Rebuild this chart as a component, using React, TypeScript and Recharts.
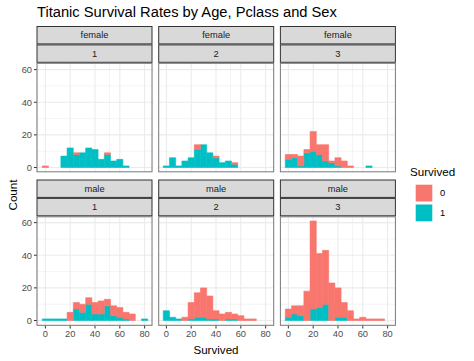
import React from 'react';
import { Bar, BarChart, CartesianGrid, XAxis, YAxis } from 'recharts';

// age bins (binwidth 5, centred on multiples of 5)
const ageBins = [0, 5, 10, 15, 20, 25, 30, 35, 40, 45, 50, 55, 60, 65, 70, 75, 80];

// counts per bin: lived = Survived 1, died = Survived 0
const female1Lived = [0, 0, 0, 7, 12, 8, 9, 12, 11, 5, 8, 4, 5, 1, 0, 0, 0];
const female1Died = [1, 0, 0, 0, 0, 1, 0, 0, 0, 0, 1, 0, 0, 0, 0, 0, 0];
const female2Lived = [1, 6, 1, 4, 6, 11, 14, 9, 6, 3, 4, 2, 0, 0, 0, 0, 0];
const female2Died = [0, 0, 0, 0, 0, 3, 0, 0, 1, 0, 0, 1, 0, 0, 0, 0, 0];
const female3Lived = [5, 6, 1, 9, 10, 8, 4, 3, 1, 0, 0, 0, 0, 1, 0, 0, 0];
const female3Died = [3, 2, 6, 2, 12, 6, 10, 1, 5, 4, 1, 0, 0, 0, 0, 0, 0];
const male1Lived = [1, 1, 1, 1, 0, 7, 5, 10, 4, 4, 9, 3, 2, 1, 0, 0, 1];
const male1Died = [0, 0, 0, 0, 5, 4, 5, 4, 7, 8, 4, 6, 6, 4, 4, 0, 0];
const male2Lived = [6, 2, 1, 0, 1, 2, 2, 1, 1, 0, 1, 1, 0, 0, 0, 0, 0];
const male2Died = [0, 0, 0, 2, 10, 15, 18, 14, 5, 4, 4, 3, 3, 1, 1, 0, 0];
const male3Lived = [2, 4, 3, 0, 7, 8, 10, 0, 2, 2, 0, 0, 0, 0, 0, 0, 0];
const male3Died = [5, 5, 6, 18, 54, 33, 33, 23, 18, 9, 6, 1, 2, 1, 1, 1, 0];

const xMajor = [0, 20, 40, 60, 80];
const xMinor = [10, 30, 50, 70];
const yMajor = [0, 20, 40, 60];
const yMinor = [10, 30, 50];

const X_DOMAIN: [number, number] = [-6.75, 86.75];
const Y_DOMAIN: [number, number] = [-3.05, 64.05];
const BIN_WIDTH = 5;

const RED = '#F8766D';
const TEAL = '#00BFC4';
const FONT = '"Liberation Sans", Arial, Helvetica, sans-serif';

const COL_LEFT = [36.5, 158.2, 279.9];
const PANEL_W = 116;
const PANEL_H = 109.5;
const STRIP_H = 18.4;
const ROW_STRIP_TOP = [26, 179.5];

type PanelProps = {
  lived: number[];
  died: number[];
  left: number;
  top: number;
  showY: boolean;
  showX: boolean;
};

function Panel({ lived, died, left, top, showY, showX }: PanelProps) {
  const yW = showY ? 22 : 0;
  const xH = showX ? 18 : 0;
  const data = ageBins.map((age, i) => ({ age, lived: lived[i], died: died[i] }));
  const pxPerYear = PANEL_W / (X_DOMAIN[1] - X_DOMAIN[0]);
  // the bins run from -2.5 to 82.5; the rest of the x range is ggplot's expansion
  const padL = (ageBins[0] - BIN_WIDTH / 2 - X_DOMAIN[0]) * pxPerYear;
  const padR = (X_DOMAIN[1] - ageBins[ageBins.length - 1] - BIN_WIDTH / 2) * pxPerYear;
  // a hair under the band so recharts doesn't fall back to 90% bars
  const barPx = BIN_WIDTH * pxPerYear * 0.998;
  const tickStyle = { fontSize: 9.3, fill: '#4D4D4D', fontFamily: FONT };
  return (
    <div style={{ position: 'absolute', left: left - yW, top }}>
      <BarChart
        width={PANEL_W + yW}
        height={PANEL_H + xH}
        data={data}
        margin={{ top: 0, right: 0, bottom: 0, left: 0 }}
        barCategoryGap="0%"
        barGap="0%"
      >
        <CartesianGrid stroke="#EBEBEB" strokeWidth={0.55} xAxisId="minor" yAxisId="minor" />
        <CartesianGrid stroke="#EBEBEB" strokeWidth={1.1} />
        <XAxis
          type="number"
          dataKey="age"
          domain={X_DOMAIN}
          ticks={xMajor}
          interval={0}
          allowDataOverflow
          hide={!showX}
          height={xH}
          axisLine={false}
          tickSize={3}
          tickMargin={2}
          tickLine={{ stroke: '#333333' }}
          tick={tickStyle}
        />
        <XAxis xAxisId="minor" type="number" domain={X_DOMAIN} ticks={xMinor} allowDataOverflow hide />
        <XAxis
          xAxisId="bins"
          type="category"
          dataKey="age"
          hide
          padding={{ left: padL, right: padR }}
        />
        <YAxis
          type="number"
          domain={Y_DOMAIN}
          ticks={yMajor}
          interval={0}
          allowDataOverflow
          hide={!showY}
          width={yW}
          axisLine={false}
          tickSize={3}
          tickMargin={2}
          tickLine={{ stroke: '#333333' }}
          tick={tickStyle}
        />
        <YAxis yAxisId="minor" type="number" domain={Y_DOMAIN} ticks={yMinor} allowDataOverflow hide />
        <Bar xAxisId="bins" dataKey="lived" stackId="s" fill={TEAL} stroke={TEAL} strokeWidth={0.6} barSize={barPx} isAnimationActive={false} />
        <Bar xAxisId="bins" dataKey="died" stackId="s" fill={RED} stroke={RED} strokeWidth={0.6} barSize={barPx} isAnimationActive={false} />
      </BarChart>
    </div>
  );
}

const panels = [
  { sex: 'female', cls: '1', lived: female1Lived, died: female1Died },
  { sex: 'female', cls: '2', lived: female2Lived, died: female2Died },
  { sex: 'female', cls: '3', lived: female3Lived, died: female3Died },
  { sex: 'male', cls: '1', lived: male1Lived, died: male1Died },
  { sex: 'male', cls: '2', lived: male2Lived, died: male2Died },
  { sex: 'male', cls: '3', lived: male3Lived, died: male3Died },
];

export default function App() {
  return (
    <div style={{ position: 'absolute', left: 0, top: 0, width: 474, height: 361, background: '#fff', fontFamily: FONT }}>
      {panels.map((p, i) => {
        const row = Math.floor(i / 3);
        const col = i % 3;
        return (
          <Panel
            key={i}
            lived={p.lived}
            died={p.died}
            left={COL_LEFT[col]}
            top={ROW_STRIP_TOP[row] + 2 * STRIP_H}
            showY={col === 0}
            showX={row === 1}
          />
        );
      })}
      <svg width={474} height={361} style={{ position: 'absolute', left: 0, top: 0, pointerEvents: 'none' }}>
        <text x={37} y={17.3} fontSize={14.7} fill="#000" fontFamily={FONT}>
          Titanic Survival Rates by Age, Pclass and Sex
        </text>
        {panels.map((p, i) => {
          const row = Math.floor(i / 3);
          const col = i % 3;
          const x = COL_LEFT[col];
          const y0 = ROW_STRIP_TOP[row];
          return (
            <g key={i}>
              <rect x={x + 0.5} y={y0 + 0.5} width={PANEL_W - 1} height={STRIP_H - 1} fill="#D9D9D9" stroke="#333333" strokeWidth={1} />
              <rect x={x + 0.5} y={y0 + STRIP_H + 0.5} width={PANEL_W - 1} height={STRIP_H - 1} fill="#D9D9D9" stroke="#333333" strokeWidth={1} />
              <text x={x + PANEL_W / 2} y={y0 + STRIP_H / 2} textAnchor="middle" dominantBaseline="central" fontSize={9.3} fill="#1A1A1A" fontFamily={FONT}>
                {p.sex}
              </text>
              <text x={x + PANEL_W / 2} y={y0 + STRIP_H * 1.5} textAnchor="middle" dominantBaseline="central" fontSize={9.3} fill="#1A1A1A" fontFamily={FONT}>
                {p.cls}
              </text>
              <rect x={x + 0.5} y={y0 + 2 * STRIP_H + 0.5} width={PANEL_W - 1} height={PANEL_H - 1} fill="none" stroke="#7A7A7A" strokeWidth={1} />
            </g>
          );
        })}
        <text x={216} y={349.5} textAnchor="middle" dominantBaseline="central" fontSize={11.6} fill="#000" fontFamily={FONT}>
          Survived
        </text>
        <text x={12} y={195} textAnchor="middle" dominantBaseline="central" fontSize={11.6} fill="#000" fontFamily={FONT} transform="rotate(-90 12 195)">
          Count
        </text>
        <text x={410} y={176} fontSize={11.6} fill="#000" fontFamily={FONT}>
          Survived
        </text>
        <rect x={415.7} y={184.7} width={16.6} height={16.8} fill={RED} />
        <rect x={415.7} y={204.5} width={16.6} height={16.8} fill={TEAL} />
        <text x={440} y={193.3} dominantBaseline="central" fontSize={9.3} fill="#000" fontFamily={FONT}>
          0
        </text>
        <text x={440} y={213} dominantBaseline="central" fontSize={9.3} fill="#000" fontFamily={FONT}>
          1
        </text>
      </svg>
    </div>
  );
}
